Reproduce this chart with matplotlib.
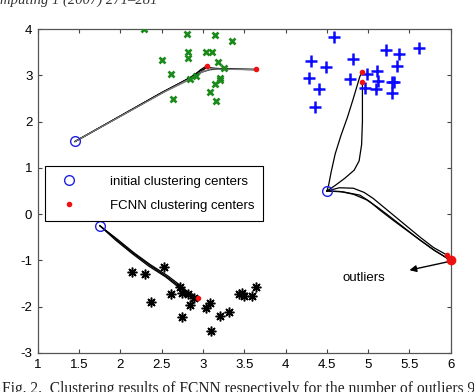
import matplotlib
matplotlib.use("Agg")
import matplotlib.pyplot as plt

# ---------------- data ----------------
green_x = [2.28, 2.81, 3.14, 3.35, 2.50, 2.82, 2.82, 3.03, 3.11, 3.18, 2.61, 2.63,
           3.09, 3.16, 3.14, 3.20, 3.20, 3.25, 2.84, 2.91]
green_y = [3.99, 3.89, 3.86, 3.74, 3.32, 3.51, 3.37, 3.51, 3.51, 3.28, 3.02, 2.49,
           2.63, 2.44, 2.81, 2.94, 2.89, 3.15, 2.93, 2.98]

blue_x = [4.58, 4.31, 4.49, 4.82, 4.28, 4.41, 4.35, 4.78, 4.98, 4.96, 5.11, 5.12,
          5.09, 5.22, 5.37, 5.35, 5.29, 5.31, 5.29, 5.62]
blue_y = [3.82, 3.31, 3.18, 3.35, 2.94, 2.71, 2.31, 2.92, 3.03, 2.73, 3.10, 2.88,
          2.71, 3.55, 3.45, 3.21, 2.86, 2.86, 2.62, 3.60]

black_x = [2.14, 2.30, 2.53, 2.37, 2.61, 2.72, 2.74, 2.74, 2.84, 2.82, 2.89, 3.03,
           3.08, 3.10, 3.20, 3.31, 3.44, 3.47, 3.49, 3.59, 3.64]
black_y = [-1.26, -1.30, -1.15, -1.90, -1.72, -1.58, -1.70, -2.23, -1.97, -1.73, -1.82, -2.03,
           -1.91, -2.52, -2.21, -2.11, -1.73, -1.71, -1.77, -1.77, -1.58]

init_x = [1.45, 4.50, 1.75]
init_y = [1.57, 0.50, -0.25]

fcnn_x = [3.05, 3.64, 4.93, 4.93, 2.94, 5.95]
fcnn_y = [3.21, 3.13, 3.07, 2.86, -1.82, -0.88]
outlier_x = [6.0]
outlier_y = [-1.0]

# trajectories of the particles (waypoints)
paths = [
    # green cluster
    ([1.45, 2.50, 2.80, 2.90, 2.97, 3.05], [1.57, 2.62, 2.90, 3.01, 3.12, 3.21], 'black'),
    ([1.45, 2.52, 2.82, 2.93, 3.00, 3.05], [1.57, 2.63, 2.89, 2.99, 3.10, 3.20], '0.45'),
    ([1.45, 2.50, 2.85, 2.97, 3.08, 3.20, 3.64], [1.57, 2.63, 2.95, 3.06, 3.12, 3.14, 3.13], 'black'),
    ([1.45, 2.55, 2.85, 2.95, 3.05, 3.15, 3.40, 3.64], [1.57, 2.67, 2.96, 3.08, 3.17, 3.15, 3.13, 3.12], 'black'),
    ([1.45, 2.55, 2.90, 3.00, 3.10, 3.25, 3.64], [1.57, 2.66, 2.98, 3.08, 3.14, 3.13, 3.12], '0.5'),
    # blue cluster
    ([4.50, 4.52, 4.55, 4.60, 4.67, 4.75, 4.82, 4.87, 4.90, 4.93],
     [0.50, 0.62, 0.90, 1.30, 1.70, 2.10, 2.50, 2.80, 2.98, 3.07], 'black'),
    ([4.50, 4.60, 4.72, 4.83, 4.89, 4.92, 4.93, 4.93, 4.93],
     [0.50, 0.62, 0.78, 0.95, 1.15, 1.50, 2.00, 2.50, 2.86], 'black'),
    # towards the outlier
    ([4.50, 4.65, 4.82, 4.95, 5.06, 5.25, 5.46, 5.63, 5.79, 5.95],
     [0.50, 0.57, 0.56, 0.47, 0.34, 0.06, -0.25, -0.50, -0.72, -0.88], 'black'),
    ([4.50, 4.70, 4.90, 5.02, 5.14, 5.30, 5.46, 5.62, 5.79, 6.00],
     [0.50, 0.48, 0.41, 0.27, 0.09, -0.13, -0.34, -0.55, -0.77, -1.00], 'black'),
    ([4.50, 4.66, 4.82, 4.98, 5.12, 5.26, 5.44, 5.62, 5.80, 6.00],
     [0.50, 0.49, 0.43, 0.31, 0.14, -0.05, -0.30, -0.55, -0.78, -1.00], 'black'),
    # black cluster
    ([1.75, 1.95, 2.15, 2.35, 2.56, 2.70, 2.80, 2.94],
     [-0.25, -0.55, -0.84, -1.10, -1.35, -1.54, -1.68, -1.82], 'black'),
    ([1.75, 1.96, 2.16, 2.36, 2.57, 2.71, 2.81, 2.94],
     [-0.25, -0.54, -0.83, -1.09, -1.33, -1.52, -1.67, -1.82], 'black'),
    ([1.75, 1.94, 2.14, 2.34, 2.55, 2.69, 2.79, 2.94],
     [-0.25, -0.56, -0.85, -1.12, -1.36, -1.56, -1.70, -1.82], 'black'),
]

xticks = [1, 1.5, 2, 2.5, 3, 3.5, 4, 4.5, 5, 5.5, 6]
xticklabels = ['1', '1.5', '2', '2.5', '3', '3.5', '4', '4.5', '5', '5.5', '6']
yticks = [-3, -2, -1, 0, 1, 2, 3, 4]
yticklabels = ['-3', '-2', '-1', '0', '1', '2', '3', '4']

# ---------------- figure ----------------
plt.rcParams['font.family'] = ['Liberation Sans', 'DejaVu Sans']
fig = plt.figure(figsize=(4.74, 3.92), dpi=100)
ax = fig.add_axes([0.080, 0.0995, 0.871, 0.8265])

for px, py, c in paths:
    ax.plot(px, py, color=c, lw=0.9, zorder=2)

ax.plot(green_x, green_y, 'x', color='#1a8a1a', ms=4.8, mew=1.9, ls='none', zorder=3)
ax.plot(blue_x, blue_y, '+', color='#0a0aff', ms=8, mew=1.8, ls='none', zorder=3)
ax.plot(black_x, black_y, marker=(8, 2, 0), color='black', ms=7, mew=1.1, ls='none', zorder=3)

h1, = ax.plot(init_x, init_y, 'o', mfc='none', mec='#2020e0', ms=7, mew=1.0, ls='none',
              zorder=4, label='initial clustering centers')
h2, = ax.plot(fcnn_x, fcnn_y, '.', color='#ee1111', ms=6, ls='none', zorder=5,
              label='FCNN clustering centers')
ax.plot(outlier_x, outlier_y, 'o', color='#ee1111', ms=6, ls='none', zorder=5, clip_on=False)

ax.annotate('', xy=(5.50, -1.21), xytext=(5.99, -1.02),
            arrowprops=dict(arrowstyle='-|>', color='black', lw=1.0,
                            mutation_scale=10, shrinkA=0, shrinkB=0))
ax.text(4.95, -1.37, 'outliers', ha='center', va='center', fontsize=9.5)

ax.set_xlim(1, 6)
ax.set_ylim(-3, 4)
ax.set_xticks(xticks)
ax.set_xticklabels(xticklabels)
ax.set_yticks(yticks)
ax.set_yticklabels(yticklabels)
ax.tick_params(direction='in', top=True, right=True, labelsize=9.5, length=3,
               width=0.8, color='#444444', pad=4)
for s in ax.spines.values():
    s.set_color('#555555')
    s.set_linewidth(0.9)

leg = ax.legend(handles=[h1, h2], loc='upper left', bbox_to_anchor=(0.017, 0.577),
                fontsize=9.5, frameon=True, fancybox=False, edgecolor='black',
                framealpha=1, handlelength=2.2, borderpad=0.7, labelspacing=0.9,
                handletextpad=2.0, borderaxespad=0)
leg.get_frame().set_linewidth(0.8)

# page fragments of the cropped figure
fig.text(0.0, 1 - 4 / 392, 'mputing 1 (2007) 271–281', family='Liberation Serif',
         style='italic', fontsize=10.5, va='baseline', ha='left', color='#333333')
fig.text(0.005, 1 - 393 / 392,
         'Fig. 2.  Clustering results of FCNN respectively for the number of outliers 9',
         family='Liberation Serif', fontsize=11.2, va='baseline', ha='left', color='#222222')

fig.savefig('out.png', dpi=100)
